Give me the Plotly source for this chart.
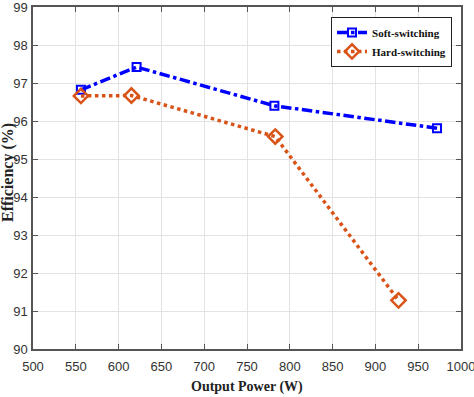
import plotly.graph_objects as go

soft_x = [556, 621, 782, 972]
soft_y = [96.82, 97.42, 96.40, 95.81]
hard_x = [556, 615, 783, 927]
hard_y = [96.66, 96.67, 95.59, 91.28]

x_ticks = [500, 550, 600, 650, 700, 750, 800, 850, 900, 950, 1000]
y_ticks = [90, 91, 92, 93, 94, 95, 96, 97, 98, 99]

fig = go.Figure()
fig.add_trace(go.Scatter(
    x=soft_x, y=soft_y, name="<b>Soft-switching</b>", mode="lines+markers",
    line=dict(color="#0000FF", width=3.5, dash="dashdot"),
    marker=dict(symbol="square-open", size=8, color="#0000FF", line=dict(width=2)),
))
fig.add_trace(go.Scatter(
    x=hard_x, y=hard_y, name="<b>Hard-switching</b>", mode="lines+markers",
    line=dict(color="#D95319", width=3.5, dash="dot"),
    marker=dict(symbol="diamond-open", size=11, color="#D95319", line=dict(width=2.5)),
))

axis_common = dict(
    showline=True, linecolor="#555555", linewidth=1.5, mirror="ticks",
    ticks="inside", ticklen=5, tickcolor="#555555",
    showgrid=True, gridcolor="#E3E3E3", gridwidth=1, zeroline=False,
    automargin=False, ticklabeloverflow="allow",
    tickfont=dict(family="Liberation Sans", size=13, color="#333333"),
)

fig.update_layout(
    width=474, height=397,
    margin=dict(l=33, r=13, t=7, b=48),
    paper_bgcolor="white", plot_bgcolor="white",
    xaxis=dict(range=[500, 1000], tickvals=x_ticks, ticklabelstandoff=5, **axis_common),
    yaxis=dict(range=[90, 99], tickvals=y_ticks, ticklabelstandoff=1, **axis_common),
    legend=dict(x=0.979, y=0.971, xanchor="right", yanchor="top",
                bgcolor="white", bordercolor="#222222", borderwidth=1,
                font=dict(family="Liberation Serif", size=11, color="#111111"),
                itemwidth=30, tracegroupgap=0),
    showlegend=True,
    annotations=[
        dict(text="<b>Output Power (W)</b>", xref="paper", yref="paper",
             x=0.5, y=-0.111, xanchor="center", yanchor="middle", showarrow=False,
             font=dict(family="Liberation Serif", size=14, color="#222222")),
        dict(text="<b>Efficiency (%)</b>", xref="paper", yref="paper",
             x=-0.058, y=0.515, xanchor="center", yanchor="middle", showarrow=False,
             textangle=-90,
             font=dict(family="Liberation Serif", size=16, color="#222222")),
    ],
)

fig.write_html("out.html", config={"displayModeBar": False},
               post_script="document.body.style.margin='0';")
